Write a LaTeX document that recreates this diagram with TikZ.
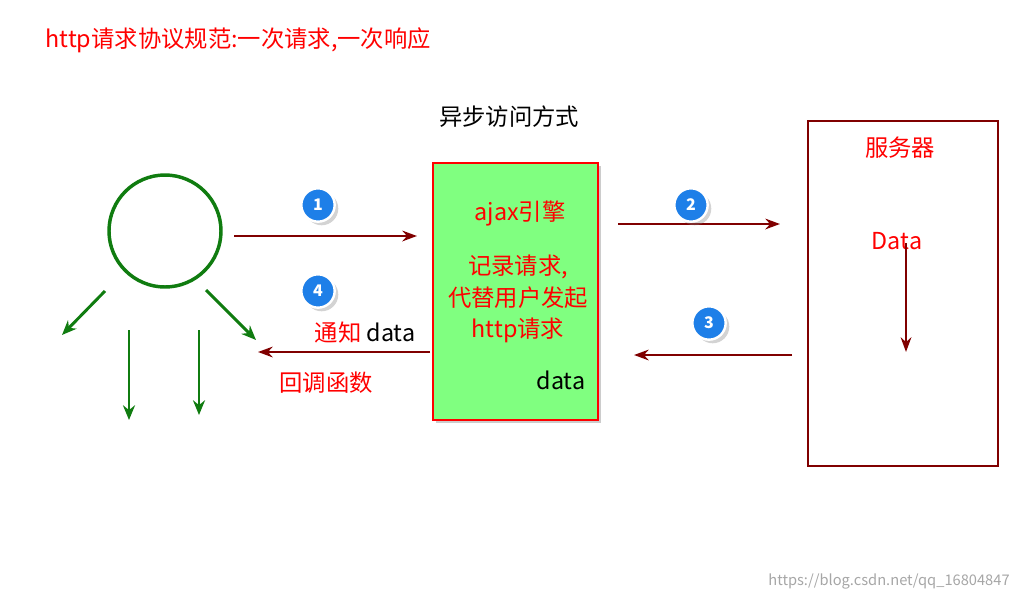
\documentclass[tikz,border=0pt]{standalone}
\usepackage{fontspec}
\setmainfont{Noto Sans CJK SC}
\usetikzlibrary{arrows.meta,shadows}
\definecolor{dred}{HTML}{800000}
\definecolor{dgreen}{HTML}{107C10}
\definecolor{badge}{HTML}{1E7FE8}
\tikzset{
  conn/.style={draw=dred,line width=2pt,-{Stealth[length=11pt,width=8pt]}},
  gconn/.style={draw=dgreen,line width=2.2pt,-{Stealth[length=11pt,width=9pt]}},
  badgenode/.style={circle,fill=badge,draw=white,line width=1.8pt,text=white,font=\bfseries\fontsize{12}{12}\selectfont,inner sep=0pt,minimum size=25pt,drop shadow={opacity=0.35}},
  rtext/.style={text=red,font=\fontsize{17.5}{20}\selectfont,inner sep=1pt},
  btext/.style={text=black,font=\fontsize{17.5}{20}\selectfont,inner sep=1pt}
}
\begin{document}
\begin{tikzpicture}[x=0.75pt,y=-0.75pt]
\useasboundingbox (0,0) rectangle (1024,600);
\node[rtext,anchor=west] (title) at (44,40) {http请求协议规范:一次请求,一次响应};
\node[btext] (mode) at (509,117) {异步访问方式};
% user
\node[circle,draw=dgreen,line width=2.6pt,minimum size=84pt] (user) at (165,231) {};
\coordinate (g1s) at (105,291); \coordinate (g1e) at (62,335);
\coordinate (g2s) at (129,330); \coordinate (g2e) at (129,420);
\coordinate (g3s) at (199,330); \coordinate (g3e) at (199,415);
\coordinate (g4s) at (206,290); \coordinate (g4e) at (256,340);
\draw[gconn] (g1s) -- (g1e);
\draw[gconn] (g2s) -- (g2e);
\draw[gconn] (g3s) -- (g3e);
\draw[gconn] (g4s) -- (g4e);
% ajax box
\draw[draw=red,line width=2.2pt,fill={rgb,255:red,128;green,255;blue,128},drop shadow={opacity=0.4,shadow xshift=2pt,shadow yshift=-2pt}] (433,163) rectangle (598,420);
\node[rtext] (eng) at (520,213) {ajax引擎};
\node[rtext,align=center,font=\fontsize{17.5}{23.5}\selectfont] (rec) at (518,299) {记录请求,\\代替用户发起\\http请求};
\node[btext] (bdata) at (561,380) {data};
% server
\draw[draw=dred,line width=2.2pt] (808,121) rectangle (998,466);
\node[rtext] (srv) at (900,148) {服务器};
\node[rtext] (sdata) at (897,241) {Data};
\coordinate (sd1) at (906,243); \coordinate (sd2) at (906,352);
\draw[conn] (sd1) -- (sd2);
% connectors
\coordinate (a1s) at (234,236); \coordinate (a1e) at (417,236);
\coordinate (a2s) at (618,224); \coordinate (a2e) at (780,224);
\coordinate (a3s) at (792,355); \coordinate (a3e) at (634,355);
\coordinate (a4s) at (430,352); \coordinate (a4e) at (258,352);
\draw[conn] (a1s) -- (a1e);
\draw[conn] (a2s) -- (a2e);
\draw[conn] (a3s) -- (a3e);
\draw[conn] (a4s) -- (a4e);
\node[badgenode] (b1) at (318,205) {1};
\node[badgenode] (b2) at (691,205) {2};
\node[badgenode] (b3) at (709,323) {3};
\node[badgenode] (b4) at (318,291) {4};
\node[btext] (notify) at (365,333) {\textcolor{red}{通知} data};
\node[rtext] (cb) at (326,383) {回调函数};
\node[text=gray!70,font=\fontsize{11}{11}\selectfont,inner sep=0pt] (wm) at (889,581) {https://blog.csdn.net/qq\_16804847};
\end{tikzpicture}
\end{document}
